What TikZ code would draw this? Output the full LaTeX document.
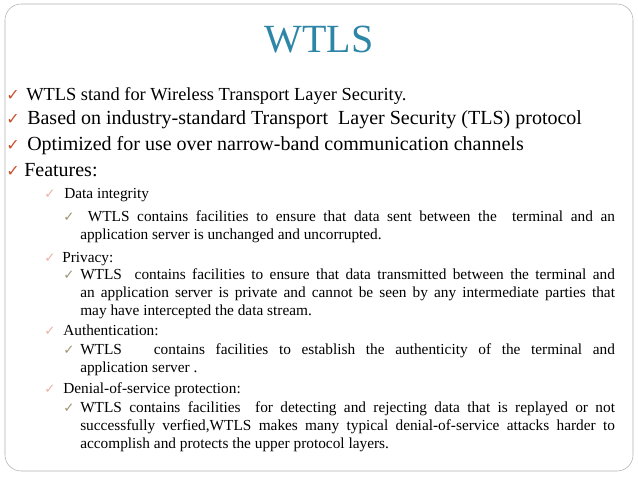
\documentclass[tikz,border=0pt]{standalone}
\usepackage{fontspec}
\setmainfont{Liberation Serif}
\newfontfamily\ckfont{DejaVu Sans}
\definecolor{ttl}{HTML}{2E86A6}
\definecolor{ckA}{HTML}{C8502A}
\definecolor{ckB}{HTML}{EAB2A8}
\definecolor{ckC}{HTML}{9C9474}
\definecolor{brd}{HTML}{B0B0B0}
\begin{document}
\begin{tikzpicture}[x=0.75pt,y=-0.75pt,
  ck/.style={anchor=base west,inner sep=0pt},
  ckA/.style={ck,text=ckA,font=\ckfont\fontsize{12}{12}\selectfont},
  ckB/.style={ck,text=ckB,font=\ckfont\fontsize{10}{10}\selectfont},
  ckC/.style={ck,text=ckC,font=\ckfont\fontsize{10}{10}\selectfont},
  txt/.style={anchor=base west,inner sep=0pt},
  para/.style={anchor=north west,inner sep=0pt,text width=401pt,align=justify,font=\fontsize{11.5}{13.5}\selectfont}]
\useasboundingbox (0,0) rectangle (638,478);
\draw[brd,rounded corners=12pt] (5,4) rectangle (633,471);
\node[font=\fontsize{30}{34}\selectfont,text=ttl] (title) at (319,40) {WTLS};
\node[ckA] (c1) at (6,100) {✓};
\node[txt,font=\fontsize{13.8}{16}\selectfont] (t1) at (26,100) {WTLS stand for Wireless Transport Layer Security.};
\node[ckA] (c2) at (6,124) {✓};
\node[txt,font=\fontsize{15}{17}\selectfont] (t2) at (27,124) {Based on industry-standard Transport\ \ Layer Security (TLS) protocol};
\node[ckA] (c3) at (6,150) {✓};
\node[txt,font=\fontsize{15}{17}\selectfont] (t3) at (27,150) {Optimized for use over narrow-band communication channels};
\node[ckA] (c4) at (6,176) {✓};
\node[txt,font=\fontsize{15}{17}\selectfont] (t4) at (24,176) {Features:};
% level 2/3
\node[ckB] (c5) at (44,198) {✓};
\node[txt,font=\fontsize{11.5}{13}\selectfont] (t5) at (64,198) {Data integrity};
\node[ckC] (c6) at (63,221) {✓};
\node[para] (p1) at (80,210) {\ WTLS contains facilities to ensure that data sent between the\ \ terminal and an\linebreak application server is unchanged and uncorrupted.};
\node[ckB] (c7) at (44,262) {✓};
\node[txt,font=\fontsize{11.5}{13}\selectfont] (t7) at (62,262) {Privacy:};
\node[ckC] (c8) at (63,279) {✓};
\node[para] (p2) at (80,268) {WTLS\ \ contains facilities to ensure that data transmitted between the terminal and\linebreak an application server is private and cannot be seen by any intermediate parties that\linebreak may have intercepted the data stream.};
\node[ckB] (c9) at (44,335) {✓};
\node[txt,font=\fontsize{11.5}{13}\selectfont] (t9) at (63,335) {Authentication:};
\node[ckC] (c10) at (63,354) {✓};
\node[para] (p3) at (80,343) {WTLS\ \ \ contains facilities to establish the authenticity of the terminal and\linebreak application server .};
\node[ckB] (c11) at (44,393) {✓};
\node[txt,font=\fontsize{11.5}{13}\selectfont] (t11) at (63,393) {Denial-of-service protection:};
\node[ckC] (c12) at (63,412) {✓};
\node[para] (p4) at (80,401) {WTLS contains facilities\ \ for detecting and rejecting data that is replayed or not\linebreak successfully verfied,WTLS makes many typical denial-of-service attacks harder to\linebreak accomplish and protects the upper protocol layers.};
\end{tikzpicture}
\end{document}
